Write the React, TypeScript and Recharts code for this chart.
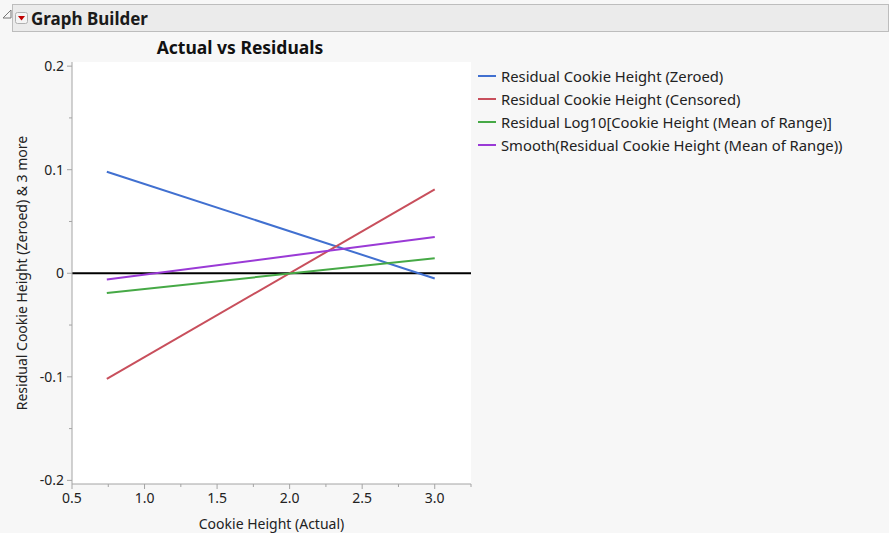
import React from 'react';
import { LineChart, Line, XAxis, YAxis, ReferenceLine, Legend } from 'recharts';

// Cookie Height (Actual) at the ends of each fitted line
const cookieHeight = [0.74, 3.0];

// residual series
const zeroed = [0.098, -0.005];
const censored = [-0.102, 0.081];
const log10Mean = [-0.019, 0.0145];
const smoothMean = [-0.006, 0.035];

const seriesNames = [
  'Residual Cookie Height (Zeroed)',
  'Residual Cookie Height (Censored)',
  'Residual Log10[Cookie Height (Mean of Range)]',
  'Smooth(Residual Cookie Height (Mean of Range))',
];
const seriesKeys = ['zeroed', 'censored', 'log10', 'smooth'];
const seriesColors = ['#4170d0', '#c84f5c', '#46a946', '#9a3ad6'];

const xTicks = [0.5, 0.75, 1.0, 1.25, 1.5, 1.75, 2.0, 2.25, 2.5, 2.75, 3.0, 3.25];
const xMajor = [0.5, 1.0, 1.5, 2.0, 2.5, 3.0];
const yTicks = [-0.2, -0.15, -0.1, -0.05, 0, 0.05, 0.1, 0.15, 0.2];
const yMajor = [-0.2, -0.1, 0, 0.1, 0.2];

const data = cookieHeight.map((x, i) => ({
  x,
  zeroed: zeroed[i],
  censored: censored[i],
  log10: log10Mean[i],
  smooth: smoothMean[i],
}));

const FONT = '"Noto Sans", "Open Sans", sans-serif';
const AXIS = '#a4a4a4';
const TEXT = '#222222';

const isMajor = (list: number[], v: number) => list.some((m) => Math.abs(m - v) < 1e-9);

const XTick = (props: any) => {
  const { x, y, payload } = props;
  const major = isMajor(xMajor, payload.value);
  return (
    <g>
      <line x1={x} x2={x} y1={y} y2={y + (major ? 5 : 3)} stroke={AXIS} />
      {major && (
        <text x={x} y={y + 19} textAnchor="middle" fontSize={14} fill={TEXT} fontFamily={FONT}>
          {payload.value.toFixed(1)}
        </text>
      )}
    </g>
  );
};

const YTick = (props: any) => {
  const { x, y, payload } = props;
  const major = isMajor(yMajor, payload.value);
  const v = payload.value;
  const label = Math.abs(v) < 1e-9 ? '0' : v.toFixed(1);
  return (
    <g>
      <line x1={x - (major ? 5 : 3)} x2={x} y1={y} y2={y} stroke={AXIS} />
      {major && (
        <text x={x - 8} y={y + 5} textAnchor="end" fontSize={14} fill={TEXT} fontFamily={FONT}>
          {label}
        </text>
      )}
    </g>
  );
};

const LegendBox = () => (
  <div style={{ fontFamily: FONT, fontSize: 14.8, color: TEXT }}>
    {seriesNames.map((name, i) => (
      <div key={name} style={{ display: 'flex', alignItems: 'center', height: 23, whiteSpace: 'nowrap' }}>
        <span style={{ display: 'inline-block', width: 18, height: 2, background: seriesColors[i], marginRight: 5 }} />
        {name}
      </div>
    ))}
  </div>
);

const GraphHeader = () => (
  <div
    style={{
      position: 'absolute', left: 12, top: 4, width: 875, height: 26,
      background: '#ebebeb', border: '1px solid #bdbdbd',
      fontFamily: FONT, fontWeight: 700, fontSize: 17, color: '#1a1a1a',
      display: 'flex', alignItems: 'center',
    }}
  >
    <svg width={15} height={14} style={{ marginLeft: 2, marginRight: 1 }}>
      <rect x={0.5} y={1.5} width={12} height={11} rx={2} fill="#f4f4f4" stroke="#b0b0b0" />
      <path d="M3 5 L10 5 L6.5 9.5 Z" fill="#c00000" />
    </svg>
    Graph Builder
  </div>
);

export default function App() {
  return (
    <div style={{ position: 'absolute', left: 0, top: 0, width: 889, height: 533, background: '#f7f7f7', overflow: 'hidden' }}>
      <svg width={10} height={10} style={{ position: 'absolute', left: 2, top: 9 }}>
        <path d="M1 9 L9 9 L9 1 Z" fill="none" stroke="#777" strokeWidth={1} />
      </svg>
      <GraphHeader />
      <div
        style={{
          position: 'absolute', left: 0, top: 35, width: 480, textAlign: 'center',
          fontFamily: FONT, fontWeight: 700, fontSize: 17.5, color: '#111',
        }}
      >
        Actual vs Residuals
      </div>
      <div style={{ position: 'absolute', left: 0, top: 0 }}>
        <LineChart width={889} height={533} data={data} margin={{ top: 62, right: 418, bottom: 0, left: 12 }}>
          <rect x={72} y={62} width={399} height={422} fill="#ffffff" />
          <XAxis
            dataKey="x"
            type="number"
            domain={[0.5, 3.25]}
            ticks={xTicks}
            allowDataOverflow
            height={49}
            tickSize={0}
            tickMargin={0}
            tickLine={false}
            axisLine={{ stroke: AXIS }}
            tick={<XTick />}
            interval={0}
            label={{ value: 'Cookie Height (Actual)', position: 'insideBottom', offset: 4, fontSize: 14, fill: TEXT, fontFamily: FONT }}
          />
          <XAxis xAxisId="top" dataKey="x" type="number" domain={[0.5, 3.25]} orientation="top" height={0} tick={false} tickLine={false} axisLine={{ stroke: AXIS }} />
          <YAxis
            type="number"
            domain={[-0.2035, 0.204]}
            ticks={yTicks}
            allowDataOverflow
            width={60}
            tickSize={0}
            tickMargin={0}
            tickLine={false}
            axisLine={{ stroke: AXIS }}
            tick={<YTick />}
            interval={0}
            label={{
              value: 'Residual Cookie Height (Zeroed) & 3 more',
              angle: -90,
              position: 'insideLeft',
              offset: 10,
              fontSize: 14,
              fill: TEXT,
              fontFamily: FONT,
              style: { textAnchor: 'middle' },
            }}
          />
          <YAxis yAxisId="right" orientation="right" domain={[-0.2035, 0.204]} width={0} tick={false} tickLine={false} axisLine={{ stroke: AXIS }} />
          <ReferenceLine y={0} stroke="#000000" strokeWidth={2} />
          {seriesKeys.map((k, i) => (
            <Line
              key={k}
              type="linear"
              dataKey={k}
              name={seriesNames[i]}
              stroke={seriesColors[i]}
              strokeWidth={2}
              dot={false}
              activeDot={false}
              isAnimationActive={false}
            />
          ))}
          <Legend
            layout="vertical"
            align="center"
            verticalAlign="middle"
            content={<LegendBox />}
            wrapperStyle={{ position: 'absolute', left: 478, top: 64, width: 400, height: 'auto' }}
          />
        </LineChart>
      </div>
    </div>
  );
}
